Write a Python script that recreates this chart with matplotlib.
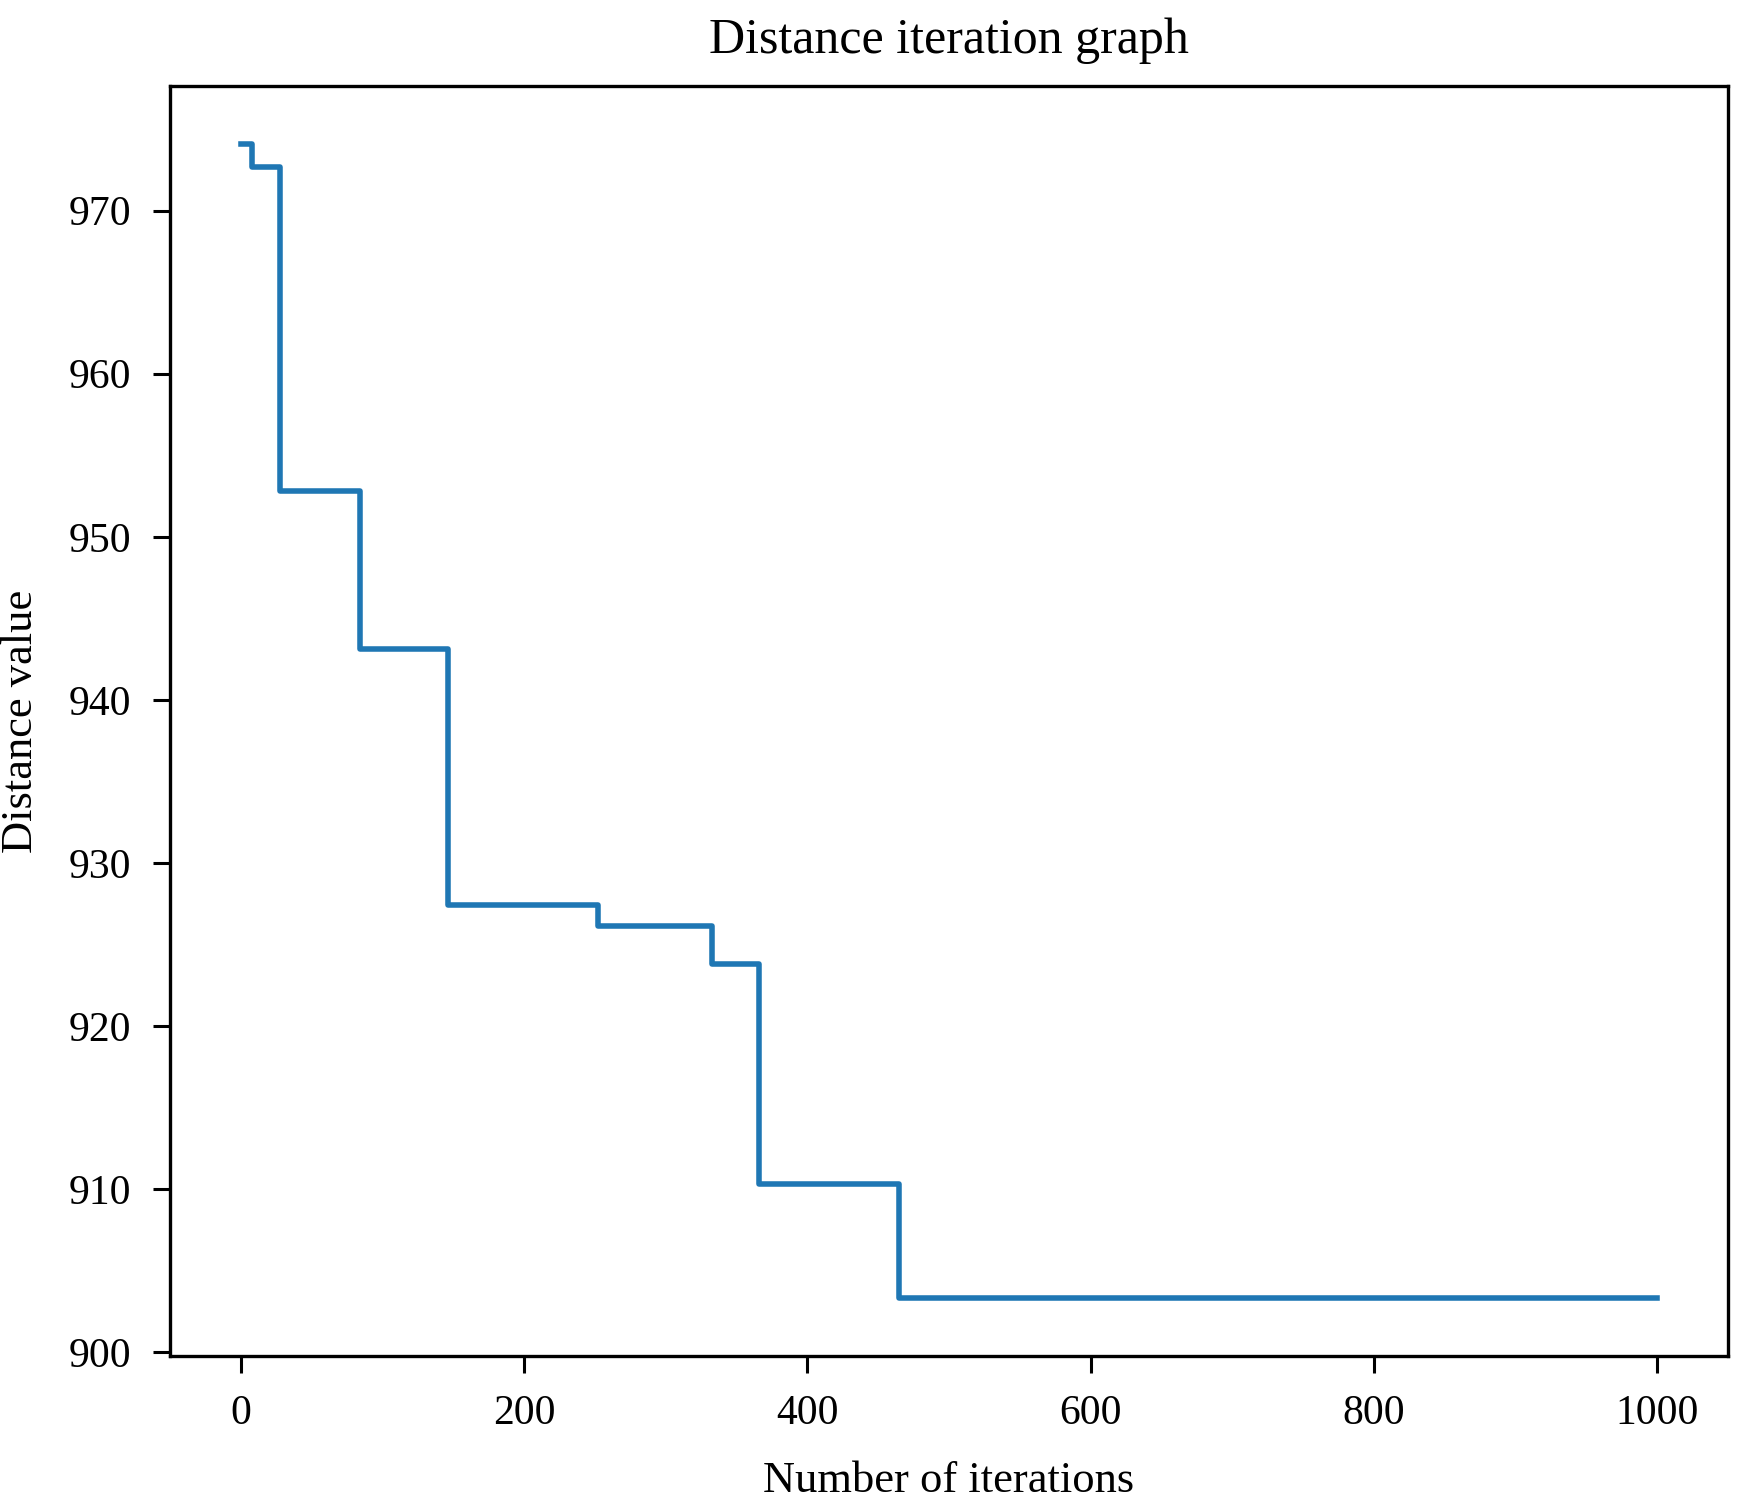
import matplotlib
matplotlib.use("Agg")
import matplotlib.pyplot as plt

# iteration at which the best distance changed, and the new best distance
change_iters = [0, 8, 28, 84, 146, 252, 333, 366, 465, 1000]
best_dist = [974.1, 972.7, 952.8, 943.1, 927.4, 926.1, 923.8, 910.3, 903.3, 903.3]

title = "Distance iteration graph"
x_label = "Number of iterations"
y_label = "Distance value"


def draw_plot():
    plt.rcParams['font.family'] = ['Liberation Serif', 'DejaVu Serif']
    fig = plt.figure(figsize=(8.705, 7.52), dpi=200)
    ax = fig.add_axes([0.0976, 0.0984, 0.8949, 0.8444])

    ax.plot(change_iters, best_dist, drawstyle='steps-post',
            color='#1f77b4', linewidth=2.0)

    ax.set_title(title, fontsize=18, pad=12)
    ax.set_xlabel(x_label, fontsize=16, labelpad=10)
    ax.set_ylabel(y_label, fontsize=16, labelpad=10)
    ax.tick_params(labelsize=15, length=6, width=1.1, pad=8)
    for s in ax.spines.values():
        s.set_linewidth(1.2)

    fig.savefig("out.png", dpi=200)


if __name__ == "__main__":
    draw_plot()
